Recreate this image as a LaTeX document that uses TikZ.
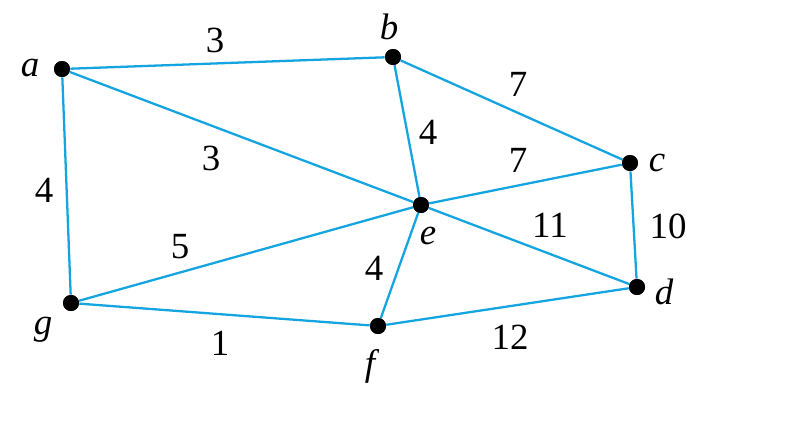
\documentclass[tikz,border=0pt]{standalone}
\usepackage{fontspec}
\setmainfont{Liberation Serif}
\definecolor{edgecol}{RGB}{20,165,225}
\begin{document}
\begin{tikzpicture}[x=0.02cm,y=-0.02cm,
  vtx/.style={circle,fill=black,inner sep=0pt,minimum size=0.32cm},
  lbl/.style={font=\fontsize{21}{24}\selectfont\itshape},
  wt/.style={font=\fontsize{21}{24}\selectfont},
  edge/.style={draw=edgecol,line width=1.3pt}]
\useasboundingbox (0,0) rectangle (788,427);
\node[vtx] (a) at (62,69) {};
\node[vtx] (b) at (393,57) {};
\node[vtx] (c) at (630,163) {};
\node[vtx] (d) at (637,287) {};
\node[vtx] (e) at (421,205) {};
\node[vtx] (f) at (378,326) {};
\node[vtx] (g) at (71,303) {};
\begin{scope}[on background layer/.style={}]
\end{scope}
\draw[edge] (a) -- (b);
\draw[edge] (b) -- (c);
\draw[edge] (b) -- (e);
\draw[edge] (a) -- (e);
\draw[edge] (e) -- (c);
\draw[edge] (a) -- (g);
\draw[edge] (g) -- (e);
\draw[edge] (e) -- (d);
\draw[edge] (c) -- (d);
\draw[edge] (e) -- (f);
\draw[edge] (g) -- (f);
\draw[edge] (f) -- (d);
\foreach \n/\p in {a/{62,69},b/{393,57},c/{630,163},d/{637,287},e/{421,205},f/{378,326},g/{71,303}}
  \fill (\p) circle (0.16cm);
\node[lbl] (la) at (30,68) {a};
\node[lbl] (lb) at (389,27) {b};
\node[lbl] (lc) at (657,163) {c};
\node[lbl] (ld) at (664,292) {d};
\node[lbl] (le) at (428,236) {e};
\node[lbl] (lf) at (370,366) {f};
\node[lbl] (lg) at (43,330) {g};
\node[wt] (w1) at (215,40) {3};
\node[wt] (w2) at (518,84) {7};
\node[wt] (w3) at (428,132) {4};
\node[wt] (w4) at (518,160) {7};
\node[wt] (w5) at (211,158) {3};
\node[wt] (w6) at (44,190) {4};
\node[wt] (w7) at (180,247) {5};
\node[wt] (w8) at (550,225) {11};
\node[wt] (w9) at (668,226) {10};
\node[wt] (w10) at (374,268) {4};
\node[wt] (w11) at (220,343) {1};
\node[wt] (w12) at (510,337) {12};
\end{tikzpicture}
\end{document}
